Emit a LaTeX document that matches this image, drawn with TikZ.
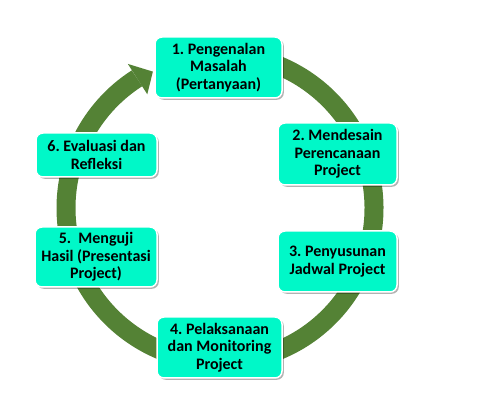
\documentclass[tikz,border=0pt]{standalone}
\usepackage{fontspec}
\setmainfont{Carlito}
\usetikzlibrary{shadows,calc}
\definecolor{boxfill}{HTML}{00F8C8}
\definecolor{ringgreen}{HTML}{548235}
\frenchspacing
\begin{document}
\begin{tikzpicture}[x=1pt,y=1pt,
  stepbox/.style={rectangle, rounded corners=7pt, fill=boxfill, draw=white,
    line width=1.5pt, align=center, inner sep=0pt,
    font=\fontsize{16}{17.5}\selectfont\bfseries,
    drop shadow={shadow xshift=1.8pt,shadow yshift=-1.8pt,opacity=0.3,fill=black}},
  ring/.style={draw=ringgreen, line width=19pt}]
\useasboundingbox (0,0) rectangle (479,420);
\coordinate (O) at (220,212);
\draw[ring] ($(O)+(95:154)$) arc[start angle=95,end angle=-237.4,radius=154];
\fill[ringgreen] ($(O)+(122.6:171)$) -- ($(O)+(116.2:152)$) -- ($(O)+(122.6:135)$) -- cycle;
\node[stepbox, minimum width=127pt, minimum height=61pt] (s1) at (218.5,352.5) {1. Pengenalan\\Masalah\\(Pertanyaan)};
\node[stepbox, minimum width=119pt, minimum height=62pt] (s2) at (337.5,266) {2. Mendesain\\Perencanaan\\Project};
\node[stepbox, minimum width=119pt, minimum height=61pt] (s3) at (337.5,158.5) {3. Penyusunan\\Jadwal Project};
\node[stepbox, minimum width=125pt, minimum height=61pt] (s4) at (219.5,72.5) {4. Pelaksanaan\\dan Monitoring\\Project};
\node[stepbox, minimum width=122pt, minimum height=60pt] (s5) at (96,163) {5.~\ Menguji\\Hasil (Presentasi\\Project)};
\node[stepbox, minimum width=121pt, minimum height=44pt] (s6) at (96.5,265) {6. Evaluasi dan\\Refleksi};
\end{tikzpicture}
\end{document}
